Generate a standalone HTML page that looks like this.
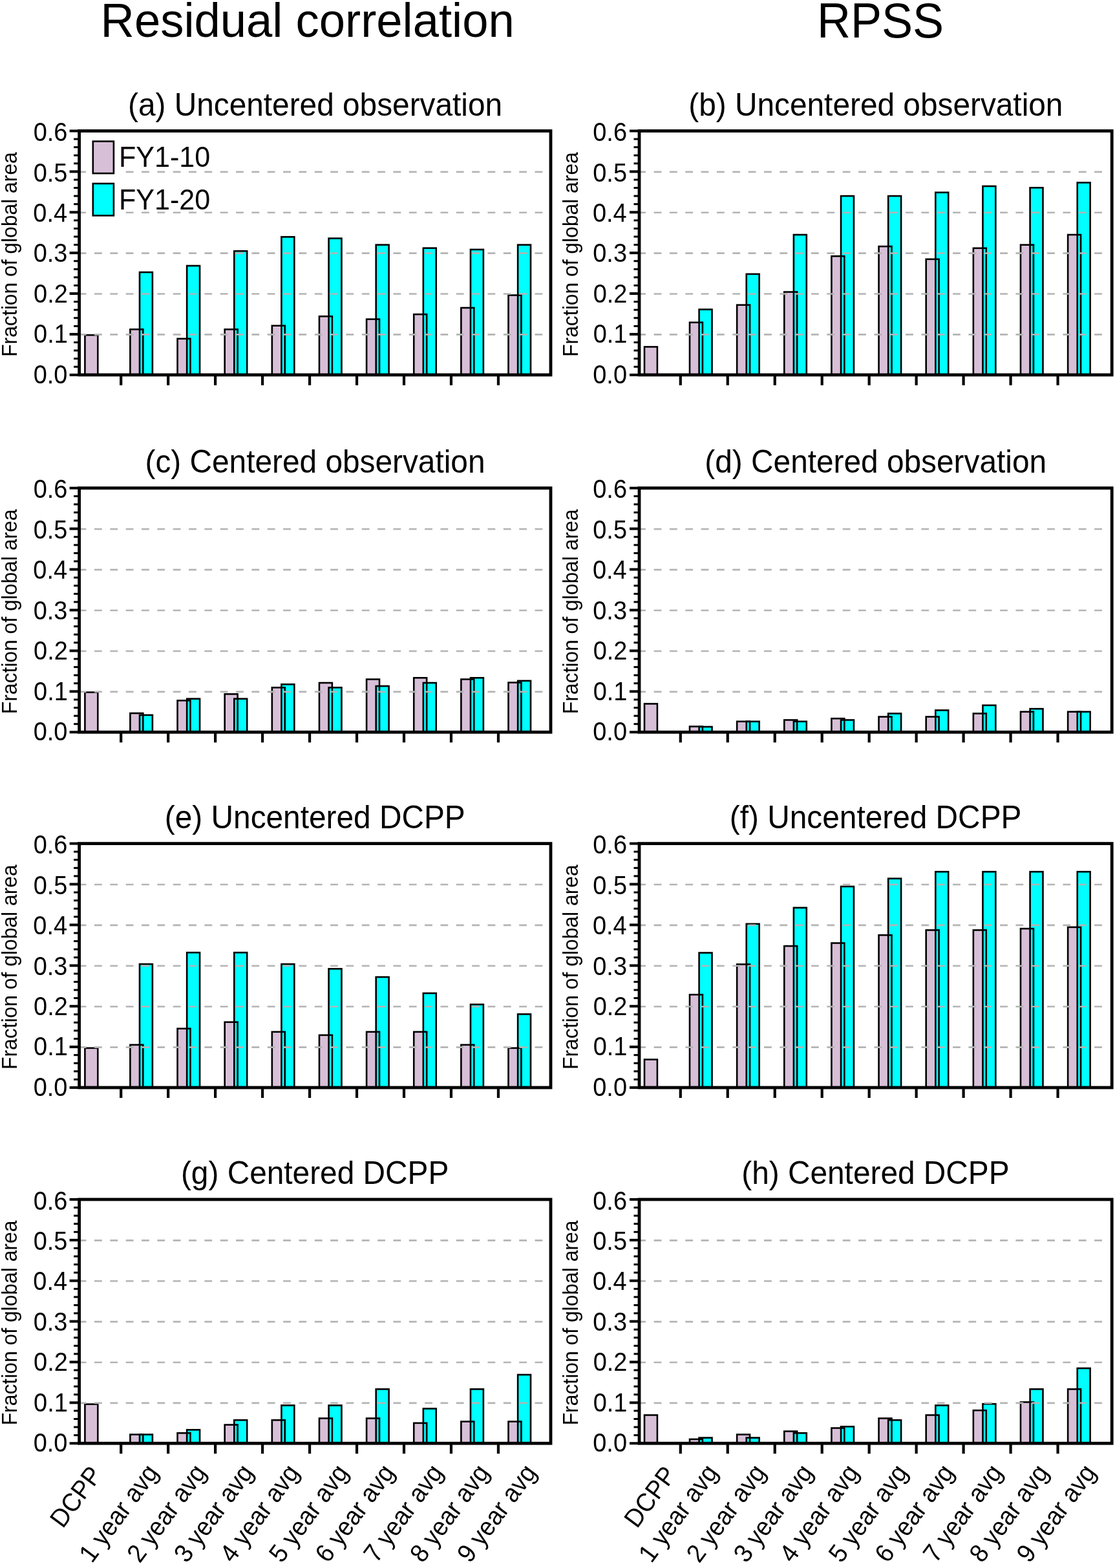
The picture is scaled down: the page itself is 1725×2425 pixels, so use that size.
<!DOCTYPE html><html><head><meta charset="utf-8"><style>html,body{margin:0;padding:0;background:#fff}svg{display:block}text{font-family:'Liberation Sans', Arial, Helvetica, sans-serif;fill:#000}</style></head><body>
<svg width="1725" height="2425" viewBox="0 0 1725 2425">
<rect width="1725" height="2425" fill="#fff"/>
<text transform="translate(155.604 57.3) scale(0.966 1)" font-size="75">Residual correlation</text>
<text transform="translate(1263.938 57.7) scale(0.954 1)" font-size="75.5">RPSS</text>
<rect x="131.4" y="518.174" width="19.9" height="61.626" fill="#d8bfd8"/>
<rect x="201.4" y="509.371" width="19.9" height="70.429" fill="#d8bfd8"/>
<rect x="216" y="421.02" width="19.9" height="158.78" fill="#00ffff"/>
<rect x="274.54" y="523.834" width="19.9" height="55.966" fill="#d8bfd8"/>
<rect x="289.14" y="411.021" width="19.9" height="168.779" fill="#00ffff"/>
<rect x="347.68" y="509.371" width="19.9" height="70.429" fill="#d8bfd8"/>
<rect x="362.28" y="388.257" width="19.9" height="191.543" fill="#00ffff"/>
<rect x="420.82" y="503.711" width="19.9" height="76.089" fill="#d8bfd8"/>
<rect x="435.42" y="366.374" width="19.9" height="213.426" fill="#00ffff"/>
<rect x="493.96" y="489.248" width="19.9" height="90.552" fill="#d8bfd8"/>
<rect x="508.56" y="368.638" width="19.9" height="211.162" fill="#00ffff"/>
<rect x="567.1" y="493.65" width="19.9" height="86.15" fill="#d8bfd8"/>
<rect x="581.7" y="378.636" width="19.9" height="201.164" fill="#00ffff"/>
<rect x="640.24" y="486.104" width="19.9" height="93.696" fill="#d8bfd8"/>
<rect x="654.84" y="383.667" width="19.9" height="196.133" fill="#00ffff"/>
<rect x="713.38" y="476.042" width="19.9" height="103.757" fill="#d8bfd8"/>
<rect x="727.98" y="385.931" width="19.9" height="193.869" fill="#00ffff"/>
<rect x="786.52" y="456.549" width="19.9" height="123.251" fill="#d8bfd8"/>
<rect x="801.12" y="378.636" width="19.9" height="201.164" fill="#00ffff"/>
<rect x="131.4" y="518.174" width="19.9" height="61.626" fill="none" stroke="#000" stroke-width="2.6"/>
<rect x="201.4" y="509.371" width="19.9" height="70.429" fill="none" stroke="#000" stroke-width="2.6"/>
<rect x="216" y="421.02" width="19.9" height="158.78" fill="none" stroke="#000" stroke-width="2.6"/>
<rect x="274.54" y="523.834" width="19.9" height="55.966" fill="none" stroke="#000" stroke-width="2.6"/>
<rect x="289.14" y="411.021" width="19.9" height="168.779" fill="none" stroke="#000" stroke-width="2.6"/>
<rect x="347.68" y="509.371" width="19.9" height="70.429" fill="none" stroke="#000" stroke-width="2.6"/>
<rect x="362.28" y="388.257" width="19.9" height="191.543" fill="none" stroke="#000" stroke-width="2.6"/>
<rect x="420.82" y="503.711" width="19.9" height="76.089" fill="none" stroke="#000" stroke-width="2.6"/>
<rect x="435.42" y="366.374" width="19.9" height="213.426" fill="none" stroke="#000" stroke-width="2.6"/>
<rect x="493.96" y="489.248" width="19.9" height="90.552" fill="none" stroke="#000" stroke-width="2.6"/>
<rect x="508.56" y="368.638" width="19.9" height="211.162" fill="none" stroke="#000" stroke-width="2.6"/>
<rect x="567.1" y="493.65" width="19.9" height="86.15" fill="none" stroke="#000" stroke-width="2.6"/>
<rect x="581.7" y="378.636" width="19.9" height="201.164" fill="none" stroke="#000" stroke-width="2.6"/>
<rect x="640.24" y="486.104" width="19.9" height="93.696" fill="none" stroke="#000" stroke-width="2.6"/>
<rect x="654.84" y="383.667" width="19.9" height="196.133" fill="none" stroke="#000" stroke-width="2.6"/>
<rect x="713.38" y="476.042" width="19.9" height="103.757" fill="none" stroke="#000" stroke-width="2.6"/>
<rect x="727.98" y="385.931" width="19.9" height="193.869" fill="none" stroke="#000" stroke-width="2.6"/>
<rect x="786.52" y="456.549" width="19.9" height="123.251" fill="none" stroke="#000" stroke-width="2.6"/>
<rect x="801.12" y="378.636" width="19.9" height="201.164" fill="none" stroke="#000" stroke-width="2.6"/>
<line x1="121.66" y1="517.417" x2="840" y2="517.417" stroke="#b4b4b4" stroke-width="2.6" stroke-dasharray="11.8 12.54"/>
<line x1="121.66" y1="454.533" x2="840" y2="454.533" stroke="#b4b4b4" stroke-width="2.6" stroke-dasharray="11.8 12.54"/>
<line x1="121.66" y1="391.65" x2="840" y2="391.65" stroke="#b4b4b4" stroke-width="2.6" stroke-dasharray="11.8 12.54"/>
<line x1="121.66" y1="328.767" x2="840" y2="328.767" stroke="#b4b4b4" stroke-width="2.6" stroke-dasharray="11.8 12.54"/>
<line x1="121.66" y1="265.883" x2="840" y2="265.883" stroke="#b4b4b4" stroke-width="2.6" stroke-dasharray="11.8 12.54"/>
<rect x="122.6" y="202.5" width="729.4" height="377.3" fill="none" stroke="#000" stroke-width="4.8"/>
<line x1="107.6" y1="579.8" x2="122.6" y2="579.8" stroke="#000" stroke-width="4"/>
<line x1="114.1" y1="567.223" x2="122.6" y2="567.223" stroke="#000" stroke-width="3"/>
<line x1="114.1" y1="554.647" x2="122.6" y2="554.647" stroke="#000" stroke-width="3"/>
<line x1="114.1" y1="542.07" x2="122.6" y2="542.07" stroke="#000" stroke-width="3"/>
<line x1="114.1" y1="529.493" x2="122.6" y2="529.493" stroke="#000" stroke-width="3"/>
<line x1="107.6" y1="516.917" x2="122.6" y2="516.917" stroke="#000" stroke-width="4"/>
<line x1="114.1" y1="504.34" x2="122.6" y2="504.34" stroke="#000" stroke-width="3"/>
<line x1="114.1" y1="491.763" x2="122.6" y2="491.763" stroke="#000" stroke-width="3"/>
<line x1="114.1" y1="479.187" x2="122.6" y2="479.187" stroke="#000" stroke-width="3"/>
<line x1="114.1" y1="466.61" x2="122.6" y2="466.61" stroke="#000" stroke-width="3"/>
<line x1="107.6" y1="454.033" x2="122.6" y2="454.033" stroke="#000" stroke-width="4"/>
<line x1="114.1" y1="441.457" x2="122.6" y2="441.457" stroke="#000" stroke-width="3"/>
<line x1="114.1" y1="428.88" x2="122.6" y2="428.88" stroke="#000" stroke-width="3"/>
<line x1="114.1" y1="416.303" x2="122.6" y2="416.303" stroke="#000" stroke-width="3"/>
<line x1="114.1" y1="403.727" x2="122.6" y2="403.727" stroke="#000" stroke-width="3"/>
<line x1="107.6" y1="391.15" x2="122.6" y2="391.15" stroke="#000" stroke-width="4"/>
<line x1="114.1" y1="378.573" x2="122.6" y2="378.573" stroke="#000" stroke-width="3"/>
<line x1="114.1" y1="365.997" x2="122.6" y2="365.997" stroke="#000" stroke-width="3"/>
<line x1="114.1" y1="353.42" x2="122.6" y2="353.42" stroke="#000" stroke-width="3"/>
<line x1="114.1" y1="340.843" x2="122.6" y2="340.843" stroke="#000" stroke-width="3"/>
<line x1="107.6" y1="328.267" x2="122.6" y2="328.267" stroke="#000" stroke-width="4"/>
<line x1="114.1" y1="315.69" x2="122.6" y2="315.69" stroke="#000" stroke-width="3"/>
<line x1="114.1" y1="303.113" x2="122.6" y2="303.113" stroke="#000" stroke-width="3"/>
<line x1="114.1" y1="290.537" x2="122.6" y2="290.537" stroke="#000" stroke-width="3"/>
<line x1="114.1" y1="277.96" x2="122.6" y2="277.96" stroke="#000" stroke-width="3"/>
<line x1="107.6" y1="265.383" x2="122.6" y2="265.383" stroke="#000" stroke-width="4"/>
<line x1="114.1" y1="252.807" x2="122.6" y2="252.807" stroke="#000" stroke-width="3"/>
<line x1="114.1" y1="240.23" x2="122.6" y2="240.23" stroke="#000" stroke-width="3"/>
<line x1="114.1" y1="227.653" x2="122.6" y2="227.653" stroke="#000" stroke-width="3"/>
<line x1="114.1" y1="215.077" x2="122.6" y2="215.077" stroke="#000" stroke-width="3"/>
<line x1="107.6" y1="202.5" x2="122.6" y2="202.5" stroke="#000" stroke-width="4"/>
<line x1="187.18" y1="579.8" x2="187.18" y2="595.8" stroke="#000" stroke-width="4.2"/>
<line x1="260.15" y1="579.8" x2="260.15" y2="595.8" stroke="#000" stroke-width="4.2"/>
<line x1="333.12" y1="579.8" x2="333.12" y2="595.8" stroke="#000" stroke-width="4.2"/>
<line x1="406.09" y1="579.8" x2="406.09" y2="595.8" stroke="#000" stroke-width="4.2"/>
<line x1="479.06" y1="579.8" x2="479.06" y2="595.8" stroke="#000" stroke-width="4.2"/>
<line x1="552.03" y1="579.8" x2="552.03" y2="595.8" stroke="#000" stroke-width="4.2"/>
<line x1="625" y1="579.8" x2="625" y2="595.8" stroke="#000" stroke-width="4.2"/>
<line x1="697.97" y1="579.8" x2="697.97" y2="595.8" stroke="#000" stroke-width="4.2"/>
<line x1="770.94" y1="579.8" x2="770.94" y2="595.8" stroke="#000" stroke-width="4.2"/>
<text transform="translate(51.674 592.614) scale(0.921 1)" font-size="41.2">0.0</text>
<text transform="translate(52.053 530.197) scale(0.921 1)" font-size="41.2">0.1</text>
<text transform="translate(52.053 467.781) scale(0.921 1)" font-size="41.2">0.2</text>
<text transform="translate(51.674 405.364) scale(0.921 1)" font-size="41.2">0.3</text>
<text transform="translate(51.295 342.947) scale(0.921 1)" font-size="41.2">0.4</text>
<text transform="translate(51.674 280.531) scale(0.921 1)" font-size="41.2">0.5</text>
<text transform="translate(51.674 218.114) scale(0.921 1)" font-size="41.2">0.6</text>
<text transform="translate(26 551.872) rotate(-90) scale(0.959 1)" font-size="33.2">Fraction of global area</text>
<text transform="translate(197.971 178.8) scale(0.956 1)" font-size="50">(a) Uncentered observation</text>
<rect x="997" y="536.41" width="19.9" height="43.389" fill="#d8bfd8"/>
<rect x="1067" y="498.68" width="19.9" height="81.12" fill="#d8bfd8"/>
<rect x="1081.6" y="478.558" width="19.9" height="101.242" fill="#00ffff"/>
<rect x="1140.14" y="471.641" width="19.9" height="108.159" fill="#d8bfd8"/>
<rect x="1154.74" y="423.849" width="19.9" height="155.951" fill="#00ffff"/>
<rect x="1213.28" y="451.518" width="19.9" height="128.282" fill="#d8bfd8"/>
<rect x="1227.88" y="363.041" width="19.9" height="216.759" fill="#00ffff"/>
<rect x="1286.42" y="396.181" width="19.9" height="183.619" fill="#d8bfd8"/>
<rect x="1301.02" y="303.113" width="19.9" height="276.687" fill="#00ffff"/>
<rect x="1359.56" y="381.089" width="19.9" height="198.711" fill="#d8bfd8"/>
<rect x="1374.16" y="303.113" width="19.9" height="276.687" fill="#00ffff"/>
<rect x="1432.7" y="400.834" width="19.9" height="178.966" fill="#d8bfd8"/>
<rect x="1447.3" y="297.642" width="19.9" height="282.158" fill="#00ffff"/>
<rect x="1505.84" y="383.793" width="19.9" height="196.007" fill="#d8bfd8"/>
<rect x="1520.44" y="287.958" width="19.9" height="291.842" fill="#00ffff"/>
<rect x="1578.98" y="378.699" width="19.9" height="201.101" fill="#d8bfd8"/>
<rect x="1593.58" y="290.285" width="19.9" height="289.515" fill="#00ffff"/>
<rect x="1652.12" y="363.041" width="19.9" height="216.759" fill="#d8bfd8"/>
<rect x="1666.72" y="282.425" width="19.9" height="297.375" fill="#00ffff"/>
<rect x="997" y="536.41" width="19.9" height="43.389" fill="none" stroke="#000" stroke-width="2.6"/>
<rect x="1067" y="498.68" width="19.9" height="81.12" fill="none" stroke="#000" stroke-width="2.6"/>
<rect x="1081.6" y="478.558" width="19.9" height="101.242" fill="none" stroke="#000" stroke-width="2.6"/>
<rect x="1140.14" y="471.641" width="19.9" height="108.159" fill="none" stroke="#000" stroke-width="2.6"/>
<rect x="1154.74" y="423.849" width="19.9" height="155.951" fill="none" stroke="#000" stroke-width="2.6"/>
<rect x="1213.28" y="451.518" width="19.9" height="128.282" fill="none" stroke="#000" stroke-width="2.6"/>
<rect x="1227.88" y="363.041" width="19.9" height="216.759" fill="none" stroke="#000" stroke-width="2.6"/>
<rect x="1286.42" y="396.181" width="19.9" height="183.619" fill="none" stroke="#000" stroke-width="2.6"/>
<rect x="1301.02" y="303.113" width="19.9" height="276.687" fill="none" stroke="#000" stroke-width="2.6"/>
<rect x="1359.56" y="381.089" width="19.9" height="198.711" fill="none" stroke="#000" stroke-width="2.6"/>
<rect x="1374.16" y="303.113" width="19.9" height="276.687" fill="none" stroke="#000" stroke-width="2.6"/>
<rect x="1432.7" y="400.834" width="19.9" height="178.966" fill="none" stroke="#000" stroke-width="2.6"/>
<rect x="1447.3" y="297.642" width="19.9" height="282.158" fill="none" stroke="#000" stroke-width="2.6"/>
<rect x="1505.84" y="383.793" width="19.9" height="196.007" fill="none" stroke="#000" stroke-width="2.6"/>
<rect x="1520.44" y="287.958" width="19.9" height="291.842" fill="none" stroke="#000" stroke-width="2.6"/>
<rect x="1578.98" y="378.699" width="19.9" height="201.101" fill="none" stroke="#000" stroke-width="2.6"/>
<rect x="1593.58" y="290.285" width="19.9" height="289.515" fill="none" stroke="#000" stroke-width="2.6"/>
<rect x="1652.12" y="363.041" width="19.9" height="216.759" fill="none" stroke="#000" stroke-width="2.6"/>
<rect x="1666.72" y="282.425" width="19.9" height="297.375" fill="none" stroke="#000" stroke-width="2.6"/>
<line x1="987.26" y1="517.417" x2="1708.2" y2="517.417" stroke="#b4b4b4" stroke-width="2.6" stroke-dasharray="11.8 12.54"/>
<line x1="987.26" y1="454.533" x2="1708.2" y2="454.533" stroke="#b4b4b4" stroke-width="2.6" stroke-dasharray="11.8 12.54"/>
<line x1="987.26" y1="391.65" x2="1708.2" y2="391.65" stroke="#b4b4b4" stroke-width="2.6" stroke-dasharray="11.8 12.54"/>
<line x1="987.26" y1="328.767" x2="1708.2" y2="328.767" stroke="#b4b4b4" stroke-width="2.6" stroke-dasharray="11.8 12.54"/>
<line x1="987.26" y1="265.883" x2="1708.2" y2="265.883" stroke="#b4b4b4" stroke-width="2.6" stroke-dasharray="11.8 12.54"/>
<rect x="989" y="202.5" width="731.2" height="377.3" fill="none" stroke="#000" stroke-width="4.8"/>
<line x1="974" y1="579.8" x2="989" y2="579.8" stroke="#000" stroke-width="4"/>
<line x1="980.5" y1="567.223" x2="989" y2="567.223" stroke="#000" stroke-width="3"/>
<line x1="980.5" y1="554.647" x2="989" y2="554.647" stroke="#000" stroke-width="3"/>
<line x1="980.5" y1="542.07" x2="989" y2="542.07" stroke="#000" stroke-width="3"/>
<line x1="980.5" y1="529.493" x2="989" y2="529.493" stroke="#000" stroke-width="3"/>
<line x1="974" y1="516.917" x2="989" y2="516.917" stroke="#000" stroke-width="4"/>
<line x1="980.5" y1="504.34" x2="989" y2="504.34" stroke="#000" stroke-width="3"/>
<line x1="980.5" y1="491.763" x2="989" y2="491.763" stroke="#000" stroke-width="3"/>
<line x1="980.5" y1="479.187" x2="989" y2="479.187" stroke="#000" stroke-width="3"/>
<line x1="980.5" y1="466.61" x2="989" y2="466.61" stroke="#000" stroke-width="3"/>
<line x1="974" y1="454.033" x2="989" y2="454.033" stroke="#000" stroke-width="4"/>
<line x1="980.5" y1="441.457" x2="989" y2="441.457" stroke="#000" stroke-width="3"/>
<line x1="980.5" y1="428.88" x2="989" y2="428.88" stroke="#000" stroke-width="3"/>
<line x1="980.5" y1="416.303" x2="989" y2="416.303" stroke="#000" stroke-width="3"/>
<line x1="980.5" y1="403.727" x2="989" y2="403.727" stroke="#000" stroke-width="3"/>
<line x1="974" y1="391.15" x2="989" y2="391.15" stroke="#000" stroke-width="4"/>
<line x1="980.5" y1="378.573" x2="989" y2="378.573" stroke="#000" stroke-width="3"/>
<line x1="980.5" y1="365.997" x2="989" y2="365.997" stroke="#000" stroke-width="3"/>
<line x1="980.5" y1="353.42" x2="989" y2="353.42" stroke="#000" stroke-width="3"/>
<line x1="980.5" y1="340.843" x2="989" y2="340.843" stroke="#000" stroke-width="3"/>
<line x1="974" y1="328.267" x2="989" y2="328.267" stroke="#000" stroke-width="4"/>
<line x1="980.5" y1="315.69" x2="989" y2="315.69" stroke="#000" stroke-width="3"/>
<line x1="980.5" y1="303.113" x2="989" y2="303.113" stroke="#000" stroke-width="3"/>
<line x1="980.5" y1="290.537" x2="989" y2="290.537" stroke="#000" stroke-width="3"/>
<line x1="980.5" y1="277.96" x2="989" y2="277.96" stroke="#000" stroke-width="3"/>
<line x1="974" y1="265.383" x2="989" y2="265.383" stroke="#000" stroke-width="4"/>
<line x1="980.5" y1="252.807" x2="989" y2="252.807" stroke="#000" stroke-width="3"/>
<line x1="980.5" y1="240.23" x2="989" y2="240.23" stroke="#000" stroke-width="3"/>
<line x1="980.5" y1="227.653" x2="989" y2="227.653" stroke="#000" stroke-width="3"/>
<line x1="980.5" y1="215.077" x2="989" y2="215.077" stroke="#000" stroke-width="3"/>
<line x1="974" y1="202.5" x2="989" y2="202.5" stroke="#000" stroke-width="4"/>
<line x1="1052.78" y1="579.8" x2="1052.78" y2="595.8" stroke="#000" stroke-width="4.2"/>
<line x1="1125.75" y1="579.8" x2="1125.75" y2="595.8" stroke="#000" stroke-width="4.2"/>
<line x1="1198.72" y1="579.8" x2="1198.72" y2="595.8" stroke="#000" stroke-width="4.2"/>
<line x1="1271.69" y1="579.8" x2="1271.69" y2="595.8" stroke="#000" stroke-width="4.2"/>
<line x1="1344.66" y1="579.8" x2="1344.66" y2="595.8" stroke="#000" stroke-width="4.2"/>
<line x1="1417.63" y1="579.8" x2="1417.63" y2="595.8" stroke="#000" stroke-width="4.2"/>
<line x1="1490.6" y1="579.8" x2="1490.6" y2="595.8" stroke="#000" stroke-width="4.2"/>
<line x1="1563.57" y1="579.8" x2="1563.57" y2="595.8" stroke="#000" stroke-width="4.2"/>
<line x1="1636.54" y1="579.8" x2="1636.54" y2="595.8" stroke="#000" stroke-width="4.2"/>
<text transform="translate(917.274 592.614) scale(0.921 1)" font-size="41.2">0.0</text>
<text transform="translate(917.653 530.197) scale(0.921 1)" font-size="41.2">0.1</text>
<text transform="translate(917.653 467.781) scale(0.921 1)" font-size="41.2">0.2</text>
<text transform="translate(917.274 405.364) scale(0.921 1)" font-size="41.2">0.3</text>
<text transform="translate(916.895 342.947) scale(0.921 1)" font-size="41.2">0.4</text>
<text transform="translate(917.274 280.531) scale(0.921 1)" font-size="41.2">0.5</text>
<text transform="translate(917.274 218.114) scale(0.921 1)" font-size="41.2">0.6</text>
<text transform="translate(893.9 551.872) rotate(-90) scale(0.959 1)" font-size="33.2">Fraction of global area</text>
<text transform="translate(1065.271 178.8) scale(0.956 1)" font-size="50">(b) Uncentered observation</text>
<rect x="131.4" y="1070.642" width="19.9" height="61.658" fill="#d8bfd8"/>
<rect x="201.4" y="1103.044" width="19.9" height="29.256" fill="#d8bfd8"/>
<rect x="216" y="1105.875" width="19.9" height="26.425" fill="#00ffff"/>
<rect x="274.54" y="1083.414" width="19.9" height="48.886" fill="#d8bfd8"/>
<rect x="289.14" y="1080.708" width="19.9" height="51.592" fill="#00ffff"/>
<rect x="347.68" y="1073.41" width="19.9" height="58.89" fill="#d8bfd8"/>
<rect x="362.28" y="1080.708" width="19.9" height="51.592" fill="#00ffff"/>
<rect x="420.82" y="1063.343" width="19.9" height="68.957" fill="#d8bfd8"/>
<rect x="435.42" y="1058.373" width="19.9" height="73.927" fill="#00ffff"/>
<rect x="493.96" y="1056.045" width="19.9" height="76.255" fill="#d8bfd8"/>
<rect x="508.56" y="1063.343" width="19.9" height="68.957" fill="#00ffff"/>
<rect x="567.1" y="1050.571" width="19.9" height="81.729" fill="#d8bfd8"/>
<rect x="581.7" y="1061.078" width="19.9" height="71.222" fill="#00ffff"/>
<rect x="640.24" y="1048.306" width="19.9" height="83.994" fill="#d8bfd8"/>
<rect x="654.84" y="1056.045" width="19.9" height="76.255" fill="#00ffff"/>
<rect x="713.38" y="1050.571" width="19.9" height="81.729" fill="#d8bfd8"/>
<rect x="727.98" y="1048.306" width="19.9" height="83.994" fill="#00ffff"/>
<rect x="786.52" y="1055.605" width="19.9" height="76.695" fill="#d8bfd8"/>
<rect x="801.12" y="1052.899" width="19.9" height="79.401" fill="#00ffff"/>
<rect x="131.4" y="1070.642" width="19.9" height="61.658" fill="none" stroke="#000" stroke-width="2.6"/>
<rect x="201.4" y="1103.044" width="19.9" height="29.256" fill="none" stroke="#000" stroke-width="2.6"/>
<rect x="216" y="1105.875" width="19.9" height="26.425" fill="none" stroke="#000" stroke-width="2.6"/>
<rect x="274.54" y="1083.414" width="19.9" height="48.886" fill="none" stroke="#000" stroke-width="2.6"/>
<rect x="289.14" y="1080.708" width="19.9" height="51.592" fill="none" stroke="#000" stroke-width="2.6"/>
<rect x="347.68" y="1073.41" width="19.9" height="58.89" fill="none" stroke="#000" stroke-width="2.6"/>
<rect x="362.28" y="1080.708" width="19.9" height="51.592" fill="none" stroke="#000" stroke-width="2.6"/>
<rect x="420.82" y="1063.343" width="19.9" height="68.957" fill="none" stroke="#000" stroke-width="2.6"/>
<rect x="435.42" y="1058.373" width="19.9" height="73.927" fill="none" stroke="#000" stroke-width="2.6"/>
<rect x="493.96" y="1056.045" width="19.9" height="76.255" fill="none" stroke="#000" stroke-width="2.6"/>
<rect x="508.56" y="1063.343" width="19.9" height="68.957" fill="none" stroke="#000" stroke-width="2.6"/>
<rect x="567.1" y="1050.571" width="19.9" height="81.729" fill="none" stroke="#000" stroke-width="2.6"/>
<rect x="581.7" y="1061.078" width="19.9" height="71.222" fill="none" stroke="#000" stroke-width="2.6"/>
<rect x="640.24" y="1048.306" width="19.9" height="83.994" fill="none" stroke="#000" stroke-width="2.6"/>
<rect x="654.84" y="1056.045" width="19.9" height="76.255" fill="none" stroke="#000" stroke-width="2.6"/>
<rect x="713.38" y="1050.571" width="19.9" height="81.729" fill="none" stroke="#000" stroke-width="2.6"/>
<rect x="727.98" y="1048.306" width="19.9" height="83.994" fill="none" stroke="#000" stroke-width="2.6"/>
<rect x="786.52" y="1055.605" width="19.9" height="76.695" fill="none" stroke="#000" stroke-width="2.6"/>
<rect x="801.12" y="1052.899" width="19.9" height="79.401" fill="none" stroke="#000" stroke-width="2.6"/>
<line x1="121.66" y1="1069.883" x2="840" y2="1069.883" stroke="#b4b4b4" stroke-width="2.6" stroke-dasharray="11.8 12.54"/>
<line x1="121.66" y1="1006.967" x2="840" y2="1006.967" stroke="#b4b4b4" stroke-width="2.6" stroke-dasharray="11.8 12.54"/>
<line x1="121.66" y1="944.05" x2="840" y2="944.05" stroke="#b4b4b4" stroke-width="2.6" stroke-dasharray="11.8 12.54"/>
<line x1="121.66" y1="881.133" x2="840" y2="881.133" stroke="#b4b4b4" stroke-width="2.6" stroke-dasharray="11.8 12.54"/>
<line x1="121.66" y1="818.217" x2="840" y2="818.217" stroke="#b4b4b4" stroke-width="2.6" stroke-dasharray="11.8 12.54"/>
<rect x="122.6" y="754.8" width="729.4" height="377.5" fill="none" stroke="#000" stroke-width="4.8"/>
<line x1="107.6" y1="1132.3" x2="122.6" y2="1132.3" stroke="#000" stroke-width="4"/>
<line x1="114.1" y1="1119.717" x2="122.6" y2="1119.717" stroke="#000" stroke-width="3"/>
<line x1="114.1" y1="1107.133" x2="122.6" y2="1107.133" stroke="#000" stroke-width="3"/>
<line x1="114.1" y1="1094.55" x2="122.6" y2="1094.55" stroke="#000" stroke-width="3"/>
<line x1="114.1" y1="1081.967" x2="122.6" y2="1081.967" stroke="#000" stroke-width="3"/>
<line x1="107.6" y1="1069.383" x2="122.6" y2="1069.383" stroke="#000" stroke-width="4"/>
<line x1="114.1" y1="1056.8" x2="122.6" y2="1056.8" stroke="#000" stroke-width="3"/>
<line x1="114.1" y1="1044.217" x2="122.6" y2="1044.217" stroke="#000" stroke-width="3"/>
<line x1="114.1" y1="1031.633" x2="122.6" y2="1031.633" stroke="#000" stroke-width="3"/>
<line x1="114.1" y1="1019.05" x2="122.6" y2="1019.05" stroke="#000" stroke-width="3"/>
<line x1="107.6" y1="1006.467" x2="122.6" y2="1006.467" stroke="#000" stroke-width="4"/>
<line x1="114.1" y1="993.883" x2="122.6" y2="993.883" stroke="#000" stroke-width="3"/>
<line x1="114.1" y1="981.3" x2="122.6" y2="981.3" stroke="#000" stroke-width="3"/>
<line x1="114.1" y1="968.717" x2="122.6" y2="968.717" stroke="#000" stroke-width="3"/>
<line x1="114.1" y1="956.133" x2="122.6" y2="956.133" stroke="#000" stroke-width="3"/>
<line x1="107.6" y1="943.55" x2="122.6" y2="943.55" stroke="#000" stroke-width="4"/>
<line x1="114.1" y1="930.967" x2="122.6" y2="930.967" stroke="#000" stroke-width="3"/>
<line x1="114.1" y1="918.383" x2="122.6" y2="918.383" stroke="#000" stroke-width="3"/>
<line x1="114.1" y1="905.8" x2="122.6" y2="905.8" stroke="#000" stroke-width="3"/>
<line x1="114.1" y1="893.217" x2="122.6" y2="893.217" stroke="#000" stroke-width="3"/>
<line x1="107.6" y1="880.633" x2="122.6" y2="880.633" stroke="#000" stroke-width="4"/>
<line x1="114.1" y1="868.05" x2="122.6" y2="868.05" stroke="#000" stroke-width="3"/>
<line x1="114.1" y1="855.467" x2="122.6" y2="855.467" stroke="#000" stroke-width="3"/>
<line x1="114.1" y1="842.883" x2="122.6" y2="842.883" stroke="#000" stroke-width="3"/>
<line x1="114.1" y1="830.3" x2="122.6" y2="830.3" stroke="#000" stroke-width="3"/>
<line x1="107.6" y1="817.717" x2="122.6" y2="817.717" stroke="#000" stroke-width="4"/>
<line x1="114.1" y1="805.133" x2="122.6" y2="805.133" stroke="#000" stroke-width="3"/>
<line x1="114.1" y1="792.55" x2="122.6" y2="792.55" stroke="#000" stroke-width="3"/>
<line x1="114.1" y1="779.967" x2="122.6" y2="779.967" stroke="#000" stroke-width="3"/>
<line x1="114.1" y1="767.383" x2="122.6" y2="767.383" stroke="#000" stroke-width="3"/>
<line x1="107.6" y1="754.8" x2="122.6" y2="754.8" stroke="#000" stroke-width="4"/>
<line x1="187.18" y1="1132.3" x2="187.18" y2="1148.3" stroke="#000" stroke-width="4.2"/>
<line x1="260.15" y1="1132.3" x2="260.15" y2="1148.3" stroke="#000" stroke-width="4.2"/>
<line x1="333.12" y1="1132.3" x2="333.12" y2="1148.3" stroke="#000" stroke-width="4.2"/>
<line x1="406.09" y1="1132.3" x2="406.09" y2="1148.3" stroke="#000" stroke-width="4.2"/>
<line x1="479.06" y1="1132.3" x2="479.06" y2="1148.3" stroke="#000" stroke-width="4.2"/>
<line x1="552.03" y1="1132.3" x2="552.03" y2="1148.3" stroke="#000" stroke-width="4.2"/>
<line x1="625" y1="1132.3" x2="625" y2="1148.3" stroke="#000" stroke-width="4.2"/>
<line x1="697.97" y1="1132.3" x2="697.97" y2="1148.3" stroke="#000" stroke-width="4.2"/>
<line x1="770.94" y1="1132.3" x2="770.94" y2="1148.3" stroke="#000" stroke-width="4.2"/>
<text transform="translate(51.674 1145.114) scale(0.921 1)" font-size="41.2">0.0</text>
<text transform="translate(52.053 1082.664) scale(0.921 1)" font-size="41.2">0.1</text>
<text transform="translate(52.053 1020.214) scale(0.921 1)" font-size="41.2">0.2</text>
<text transform="translate(51.674 957.764) scale(0.921 1)" font-size="41.2">0.3</text>
<text transform="translate(51.295 895.314) scale(0.921 1)" font-size="41.2">0.4</text>
<text transform="translate(51.674 832.864) scale(0.921 1)" font-size="41.2">0.5</text>
<text transform="translate(51.674 770.414) scale(0.921 1)" font-size="41.2">0.6</text>
<text transform="translate(26 1104.272) rotate(-90) scale(0.959 1)" font-size="33.2">Fraction of global area</text>
<text transform="translate(224.5 731.1) scale(0.956 1)" font-size="50">(c) Centered observation</text>
<rect x="997" y="1088.447" width="19.9" height="43.853" fill="#d8bfd8"/>
<rect x="1067" y="1123.555" width="19.9" height="8.745" fill="#d8bfd8"/>
<rect x="1081.6" y="1123.995" width="19.9" height="8.305" fill="#00ffff"/>
<rect x="1140.14" y="1115.816" width="19.9" height="16.484" fill="#d8bfd8"/>
<rect x="1154.74" y="1115.816" width="19.9" height="16.484" fill="#00ffff"/>
<rect x="1213.28" y="1113.488" width="19.9" height="18.812" fill="#d8bfd8"/>
<rect x="1227.88" y="1115.816" width="19.9" height="16.484" fill="#00ffff"/>
<rect x="1286.42" y="1111.223" width="19.9" height="21.077" fill="#d8bfd8"/>
<rect x="1301.02" y="1113.488" width="19.9" height="18.812" fill="#00ffff"/>
<rect x="1359.56" y="1108.517" width="19.9" height="23.783" fill="#d8bfd8"/>
<rect x="1374.16" y="1103.484" width="19.9" height="28.816" fill="#00ffff"/>
<rect x="1432.7" y="1108.517" width="19.9" height="23.783" fill="#d8bfd8"/>
<rect x="1447.3" y="1098.451" width="19.9" height="33.849" fill="#00ffff"/>
<rect x="1505.84" y="1103.484" width="19.9" height="28.816" fill="#d8bfd8"/>
<rect x="1520.44" y="1090.775" width="19.9" height="41.525" fill="#00ffff"/>
<rect x="1578.98" y="1100.779" width="19.9" height="31.521" fill="#d8bfd8"/>
<rect x="1593.58" y="1096.186" width="19.9" height="36.114" fill="#00ffff"/>
<rect x="1652.12" y="1100.779" width="19.9" height="31.521" fill="#d8bfd8"/>
<rect x="1666.72" y="1100.779" width="19.9" height="31.521" fill="#00ffff"/>
<rect x="997" y="1088.447" width="19.9" height="43.853" fill="none" stroke="#000" stroke-width="2.6"/>
<rect x="1067" y="1123.555" width="19.9" height="8.745" fill="none" stroke="#000" stroke-width="2.6"/>
<rect x="1081.6" y="1123.995" width="19.9" height="8.305" fill="none" stroke="#000" stroke-width="2.6"/>
<rect x="1140.14" y="1115.816" width="19.9" height="16.484" fill="none" stroke="#000" stroke-width="2.6"/>
<rect x="1154.74" y="1115.816" width="19.9" height="16.484" fill="none" stroke="#000" stroke-width="2.6"/>
<rect x="1213.28" y="1113.488" width="19.9" height="18.812" fill="none" stroke="#000" stroke-width="2.6"/>
<rect x="1227.88" y="1115.816" width="19.9" height="16.484" fill="none" stroke="#000" stroke-width="2.6"/>
<rect x="1286.42" y="1111.223" width="19.9" height="21.077" fill="none" stroke="#000" stroke-width="2.6"/>
<rect x="1301.02" y="1113.488" width="19.9" height="18.812" fill="none" stroke="#000" stroke-width="2.6"/>
<rect x="1359.56" y="1108.517" width="19.9" height="23.783" fill="none" stroke="#000" stroke-width="2.6"/>
<rect x="1374.16" y="1103.484" width="19.9" height="28.816" fill="none" stroke="#000" stroke-width="2.6"/>
<rect x="1432.7" y="1108.517" width="19.9" height="23.783" fill="none" stroke="#000" stroke-width="2.6"/>
<rect x="1447.3" y="1098.451" width="19.9" height="33.849" fill="none" stroke="#000" stroke-width="2.6"/>
<rect x="1505.84" y="1103.484" width="19.9" height="28.816" fill="none" stroke="#000" stroke-width="2.6"/>
<rect x="1520.44" y="1090.775" width="19.9" height="41.525" fill="none" stroke="#000" stroke-width="2.6"/>
<rect x="1578.98" y="1100.779" width="19.9" height="31.521" fill="none" stroke="#000" stroke-width="2.6"/>
<rect x="1593.58" y="1096.186" width="19.9" height="36.114" fill="none" stroke="#000" stroke-width="2.6"/>
<rect x="1652.12" y="1100.779" width="19.9" height="31.521" fill="none" stroke="#000" stroke-width="2.6"/>
<rect x="1666.72" y="1100.779" width="19.9" height="31.521" fill="none" stroke="#000" stroke-width="2.6"/>
<line x1="987.26" y1="1069.883" x2="1708.2" y2="1069.883" stroke="#b4b4b4" stroke-width="2.6" stroke-dasharray="11.8 12.54"/>
<line x1="987.26" y1="1006.967" x2="1708.2" y2="1006.967" stroke="#b4b4b4" stroke-width="2.6" stroke-dasharray="11.8 12.54"/>
<line x1="987.26" y1="944.05" x2="1708.2" y2="944.05" stroke="#b4b4b4" stroke-width="2.6" stroke-dasharray="11.8 12.54"/>
<line x1="987.26" y1="881.133" x2="1708.2" y2="881.133" stroke="#b4b4b4" stroke-width="2.6" stroke-dasharray="11.8 12.54"/>
<line x1="987.26" y1="818.217" x2="1708.2" y2="818.217" stroke="#b4b4b4" stroke-width="2.6" stroke-dasharray="11.8 12.54"/>
<rect x="989" y="754.8" width="731.2" height="377.5" fill="none" stroke="#000" stroke-width="4.8"/>
<line x1="974" y1="1132.3" x2="989" y2="1132.3" stroke="#000" stroke-width="4"/>
<line x1="980.5" y1="1119.717" x2="989" y2="1119.717" stroke="#000" stroke-width="3"/>
<line x1="980.5" y1="1107.133" x2="989" y2="1107.133" stroke="#000" stroke-width="3"/>
<line x1="980.5" y1="1094.55" x2="989" y2="1094.55" stroke="#000" stroke-width="3"/>
<line x1="980.5" y1="1081.967" x2="989" y2="1081.967" stroke="#000" stroke-width="3"/>
<line x1="974" y1="1069.383" x2="989" y2="1069.383" stroke="#000" stroke-width="4"/>
<line x1="980.5" y1="1056.8" x2="989" y2="1056.8" stroke="#000" stroke-width="3"/>
<line x1="980.5" y1="1044.217" x2="989" y2="1044.217" stroke="#000" stroke-width="3"/>
<line x1="980.5" y1="1031.633" x2="989" y2="1031.633" stroke="#000" stroke-width="3"/>
<line x1="980.5" y1="1019.05" x2="989" y2="1019.05" stroke="#000" stroke-width="3"/>
<line x1="974" y1="1006.467" x2="989" y2="1006.467" stroke="#000" stroke-width="4"/>
<line x1="980.5" y1="993.883" x2="989" y2="993.883" stroke="#000" stroke-width="3"/>
<line x1="980.5" y1="981.3" x2="989" y2="981.3" stroke="#000" stroke-width="3"/>
<line x1="980.5" y1="968.717" x2="989" y2="968.717" stroke="#000" stroke-width="3"/>
<line x1="980.5" y1="956.133" x2="989" y2="956.133" stroke="#000" stroke-width="3"/>
<line x1="974" y1="943.55" x2="989" y2="943.55" stroke="#000" stroke-width="4"/>
<line x1="980.5" y1="930.967" x2="989" y2="930.967" stroke="#000" stroke-width="3"/>
<line x1="980.5" y1="918.383" x2="989" y2="918.383" stroke="#000" stroke-width="3"/>
<line x1="980.5" y1="905.8" x2="989" y2="905.8" stroke="#000" stroke-width="3"/>
<line x1="980.5" y1="893.217" x2="989" y2="893.217" stroke="#000" stroke-width="3"/>
<line x1="974" y1="880.633" x2="989" y2="880.633" stroke="#000" stroke-width="4"/>
<line x1="980.5" y1="868.05" x2="989" y2="868.05" stroke="#000" stroke-width="3"/>
<line x1="980.5" y1="855.467" x2="989" y2="855.467" stroke="#000" stroke-width="3"/>
<line x1="980.5" y1="842.883" x2="989" y2="842.883" stroke="#000" stroke-width="3"/>
<line x1="980.5" y1="830.3" x2="989" y2="830.3" stroke="#000" stroke-width="3"/>
<line x1="974" y1="817.717" x2="989" y2="817.717" stroke="#000" stroke-width="4"/>
<line x1="980.5" y1="805.133" x2="989" y2="805.133" stroke="#000" stroke-width="3"/>
<line x1="980.5" y1="792.55" x2="989" y2="792.55" stroke="#000" stroke-width="3"/>
<line x1="980.5" y1="779.967" x2="989" y2="779.967" stroke="#000" stroke-width="3"/>
<line x1="980.5" y1="767.383" x2="989" y2="767.383" stroke="#000" stroke-width="3"/>
<line x1="974" y1="754.8" x2="989" y2="754.8" stroke="#000" stroke-width="4"/>
<line x1="1052.78" y1="1132.3" x2="1052.78" y2="1148.3" stroke="#000" stroke-width="4.2"/>
<line x1="1125.75" y1="1132.3" x2="1125.75" y2="1148.3" stroke="#000" stroke-width="4.2"/>
<line x1="1198.72" y1="1132.3" x2="1198.72" y2="1148.3" stroke="#000" stroke-width="4.2"/>
<line x1="1271.69" y1="1132.3" x2="1271.69" y2="1148.3" stroke="#000" stroke-width="4.2"/>
<line x1="1344.66" y1="1132.3" x2="1344.66" y2="1148.3" stroke="#000" stroke-width="4.2"/>
<line x1="1417.63" y1="1132.3" x2="1417.63" y2="1148.3" stroke="#000" stroke-width="4.2"/>
<line x1="1490.6" y1="1132.3" x2="1490.6" y2="1148.3" stroke="#000" stroke-width="4.2"/>
<line x1="1563.57" y1="1132.3" x2="1563.57" y2="1148.3" stroke="#000" stroke-width="4.2"/>
<line x1="1636.54" y1="1132.3" x2="1636.54" y2="1148.3" stroke="#000" stroke-width="4.2"/>
<text transform="translate(917.274 1145.114) scale(0.921 1)" font-size="41.2">0.0</text>
<text transform="translate(917.653 1082.664) scale(0.921 1)" font-size="41.2">0.1</text>
<text transform="translate(917.653 1020.214) scale(0.921 1)" font-size="41.2">0.2</text>
<text transform="translate(917.274 957.764) scale(0.921 1)" font-size="41.2">0.3</text>
<text transform="translate(916.895 895.314) scale(0.921 1)" font-size="41.2">0.4</text>
<text transform="translate(917.274 832.864) scale(0.921 1)" font-size="41.2">0.5</text>
<text transform="translate(917.274 770.414) scale(0.921 1)" font-size="41.2">0.6</text>
<text transform="translate(893.9 1104.272) rotate(-90) scale(0.959 1)" font-size="33.2">Fraction of global area</text>
<text transform="translate(1090.366 731.1) scale(0.956 1)" font-size="50">(d) Centered observation</text>
<rect x="131.4" y="1620.861" width="19.9" height="61.139" fill="#d8bfd8"/>
<rect x="201.4" y="1615.892" width="19.9" height="66.108" fill="#d8bfd8"/>
<rect x="216" y="1491.036" width="19.9" height="190.964" fill="#00ffff"/>
<rect x="274.54" y="1590.795" width="19.9" height="91.205" fill="#d8bfd8"/>
<rect x="289.14" y="1473.172" width="19.9" height="208.828" fill="#00ffff"/>
<rect x="347.68" y="1580.731" width="19.9" height="101.269" fill="#d8bfd8"/>
<rect x="362.28" y="1473.172" width="19.9" height="208.828" fill="#00ffff"/>
<rect x="420.82" y="1595.827" width="19.9" height="86.173" fill="#d8bfd8"/>
<rect x="435.42" y="1491.036" width="19.9" height="190.964" fill="#00ffff"/>
<rect x="493.96" y="1600.859" width="19.9" height="81.141" fill="#d8bfd8"/>
<rect x="508.56" y="1498.332" width="19.9" height="183.668" fill="#00ffff"/>
<rect x="567.1" y="1595.827" width="19.9" height="86.173" fill="#d8bfd8"/>
<rect x="581.7" y="1511.038" width="19.9" height="170.962" fill="#00ffff"/>
<rect x="640.24" y="1595.827" width="19.9" height="86.173" fill="#d8bfd8"/>
<rect x="654.84" y="1536.072" width="19.9" height="145.928" fill="#00ffff"/>
<rect x="713.38" y="1615.892" width="19.9" height="66.108" fill="#d8bfd8"/>
<rect x="727.98" y="1553.432" width="19.9" height="128.568" fill="#00ffff"/>
<rect x="786.52" y="1620.861" width="19.9" height="61.139" fill="#d8bfd8"/>
<rect x="801.12" y="1568.466" width="19.9" height="113.534" fill="#00ffff"/>
<rect x="131.4" y="1620.861" width="19.9" height="61.139" fill="none" stroke="#000" stroke-width="2.6"/>
<rect x="201.4" y="1615.892" width="19.9" height="66.108" fill="none" stroke="#000" stroke-width="2.6"/>
<rect x="216" y="1491.036" width="19.9" height="190.964" fill="none" stroke="#000" stroke-width="2.6"/>
<rect x="274.54" y="1590.795" width="19.9" height="91.205" fill="none" stroke="#000" stroke-width="2.6"/>
<rect x="289.14" y="1473.172" width="19.9" height="208.828" fill="none" stroke="#000" stroke-width="2.6"/>
<rect x="347.68" y="1580.731" width="19.9" height="101.269" fill="none" stroke="#000" stroke-width="2.6"/>
<rect x="362.28" y="1473.172" width="19.9" height="208.828" fill="none" stroke="#000" stroke-width="2.6"/>
<rect x="420.82" y="1595.827" width="19.9" height="86.173" fill="none" stroke="#000" stroke-width="2.6"/>
<rect x="435.42" y="1491.036" width="19.9" height="190.964" fill="none" stroke="#000" stroke-width="2.6"/>
<rect x="493.96" y="1600.859" width="19.9" height="81.141" fill="none" stroke="#000" stroke-width="2.6"/>
<rect x="508.56" y="1498.332" width="19.9" height="183.668" fill="none" stroke="#000" stroke-width="2.6"/>
<rect x="567.1" y="1595.827" width="19.9" height="86.173" fill="none" stroke="#000" stroke-width="2.6"/>
<rect x="581.7" y="1511.038" width="19.9" height="170.962" fill="none" stroke="#000" stroke-width="2.6"/>
<rect x="640.24" y="1595.827" width="19.9" height="86.173" fill="none" stroke="#000" stroke-width="2.6"/>
<rect x="654.84" y="1536.072" width="19.9" height="145.928" fill="none" stroke="#000" stroke-width="2.6"/>
<rect x="713.38" y="1615.892" width="19.9" height="66.108" fill="none" stroke="#000" stroke-width="2.6"/>
<rect x="727.98" y="1553.432" width="19.9" height="128.568" fill="none" stroke="#000" stroke-width="2.6"/>
<rect x="786.52" y="1620.861" width="19.9" height="61.139" fill="none" stroke="#000" stroke-width="2.6"/>
<rect x="801.12" y="1568.466" width="19.9" height="113.534" fill="none" stroke="#000" stroke-width="2.6"/>
<line x1="121.66" y1="1619.6" x2="840" y2="1619.6" stroke="#b4b4b4" stroke-width="2.6" stroke-dasharray="11.8 12.54"/>
<line x1="121.66" y1="1556.7" x2="840" y2="1556.7" stroke="#b4b4b4" stroke-width="2.6" stroke-dasharray="11.8 12.54"/>
<line x1="121.66" y1="1493.8" x2="840" y2="1493.8" stroke="#b4b4b4" stroke-width="2.6" stroke-dasharray="11.8 12.54"/>
<line x1="121.66" y1="1430.9" x2="840" y2="1430.9" stroke="#b4b4b4" stroke-width="2.6" stroke-dasharray="11.8 12.54"/>
<line x1="121.66" y1="1368" x2="840" y2="1368" stroke="#b4b4b4" stroke-width="2.6" stroke-dasharray="11.8 12.54"/>
<rect x="122.6" y="1304.6" width="729.4" height="377.4" fill="none" stroke="#000" stroke-width="4.8"/>
<line x1="107.6" y1="1682" x2="122.6" y2="1682" stroke="#000" stroke-width="4"/>
<line x1="114.1" y1="1669.42" x2="122.6" y2="1669.42" stroke="#000" stroke-width="3"/>
<line x1="114.1" y1="1656.84" x2="122.6" y2="1656.84" stroke="#000" stroke-width="3"/>
<line x1="114.1" y1="1644.26" x2="122.6" y2="1644.26" stroke="#000" stroke-width="3"/>
<line x1="114.1" y1="1631.68" x2="122.6" y2="1631.68" stroke="#000" stroke-width="3"/>
<line x1="107.6" y1="1619.1" x2="122.6" y2="1619.1" stroke="#000" stroke-width="4"/>
<line x1="114.1" y1="1606.52" x2="122.6" y2="1606.52" stroke="#000" stroke-width="3"/>
<line x1="114.1" y1="1593.94" x2="122.6" y2="1593.94" stroke="#000" stroke-width="3"/>
<line x1="114.1" y1="1581.36" x2="122.6" y2="1581.36" stroke="#000" stroke-width="3"/>
<line x1="114.1" y1="1568.78" x2="122.6" y2="1568.78" stroke="#000" stroke-width="3"/>
<line x1="107.6" y1="1556.2" x2="122.6" y2="1556.2" stroke="#000" stroke-width="4"/>
<line x1="114.1" y1="1543.62" x2="122.6" y2="1543.62" stroke="#000" stroke-width="3"/>
<line x1="114.1" y1="1531.04" x2="122.6" y2="1531.04" stroke="#000" stroke-width="3"/>
<line x1="114.1" y1="1518.46" x2="122.6" y2="1518.46" stroke="#000" stroke-width="3"/>
<line x1="114.1" y1="1505.88" x2="122.6" y2="1505.88" stroke="#000" stroke-width="3"/>
<line x1="107.6" y1="1493.3" x2="122.6" y2="1493.3" stroke="#000" stroke-width="4"/>
<line x1="114.1" y1="1480.72" x2="122.6" y2="1480.72" stroke="#000" stroke-width="3"/>
<line x1="114.1" y1="1468.14" x2="122.6" y2="1468.14" stroke="#000" stroke-width="3"/>
<line x1="114.1" y1="1455.56" x2="122.6" y2="1455.56" stroke="#000" stroke-width="3"/>
<line x1="114.1" y1="1442.98" x2="122.6" y2="1442.98" stroke="#000" stroke-width="3"/>
<line x1="107.6" y1="1430.4" x2="122.6" y2="1430.4" stroke="#000" stroke-width="4"/>
<line x1="114.1" y1="1417.82" x2="122.6" y2="1417.82" stroke="#000" stroke-width="3"/>
<line x1="114.1" y1="1405.24" x2="122.6" y2="1405.24" stroke="#000" stroke-width="3"/>
<line x1="114.1" y1="1392.66" x2="122.6" y2="1392.66" stroke="#000" stroke-width="3"/>
<line x1="114.1" y1="1380.08" x2="122.6" y2="1380.08" stroke="#000" stroke-width="3"/>
<line x1="107.6" y1="1367.5" x2="122.6" y2="1367.5" stroke="#000" stroke-width="4"/>
<line x1="114.1" y1="1354.92" x2="122.6" y2="1354.92" stroke="#000" stroke-width="3"/>
<line x1="114.1" y1="1342.34" x2="122.6" y2="1342.34" stroke="#000" stroke-width="3"/>
<line x1="114.1" y1="1329.76" x2="122.6" y2="1329.76" stroke="#000" stroke-width="3"/>
<line x1="114.1" y1="1317.18" x2="122.6" y2="1317.18" stroke="#000" stroke-width="3"/>
<line x1="107.6" y1="1304.6" x2="122.6" y2="1304.6" stroke="#000" stroke-width="4"/>
<line x1="187.18" y1="1682" x2="187.18" y2="1698" stroke="#000" stroke-width="4.2"/>
<line x1="260.15" y1="1682" x2="260.15" y2="1698" stroke="#000" stroke-width="4.2"/>
<line x1="333.12" y1="1682" x2="333.12" y2="1698" stroke="#000" stroke-width="4.2"/>
<line x1="406.09" y1="1682" x2="406.09" y2="1698" stroke="#000" stroke-width="4.2"/>
<line x1="479.06" y1="1682" x2="479.06" y2="1698" stroke="#000" stroke-width="4.2"/>
<line x1="552.03" y1="1682" x2="552.03" y2="1698" stroke="#000" stroke-width="4.2"/>
<line x1="625" y1="1682" x2="625" y2="1698" stroke="#000" stroke-width="4.2"/>
<line x1="697.97" y1="1682" x2="697.97" y2="1698" stroke="#000" stroke-width="4.2"/>
<line x1="770.94" y1="1682" x2="770.94" y2="1698" stroke="#000" stroke-width="4.2"/>
<text transform="translate(51.674 1694.814) scale(0.921 1)" font-size="41.2">0.0</text>
<text transform="translate(52.053 1632.381) scale(0.921 1)" font-size="41.2">0.1</text>
<text transform="translate(52.053 1569.947) scale(0.921 1)" font-size="41.2">0.2</text>
<text transform="translate(51.674 1507.514) scale(0.921 1)" font-size="41.2">0.3</text>
<text transform="translate(51.295 1445.081) scale(0.921 1)" font-size="41.2">0.4</text>
<text transform="translate(51.674 1382.647) scale(0.921 1)" font-size="41.2">0.5</text>
<text transform="translate(51.674 1320.214) scale(0.921 1)" font-size="41.2">0.6</text>
<text transform="translate(26 1654.022) rotate(-90) scale(0.959 1)" font-size="33.2">Fraction of global area</text>
<text transform="translate(254.853 1280.9) scale(0.956 1)" font-size="50">(e) Uncentered DCPP</text>
<rect x="997" y="1638.599" width="19.9" height="43.401" fill="#d8bfd8"/>
<rect x="1067" y="1538.274" width="19.9" height="143.726" fill="#d8bfd8"/>
<rect x="1081.6" y="1473.549" width="19.9" height="208.451" fill="#00ffff"/>
<rect x="1140.14" y="1491.35" width="19.9" height="190.65" fill="#d8bfd8"/>
<rect x="1154.74" y="1428.89" width="19.9" height="253.11" fill="#00ffff"/>
<rect x="1213.28" y="1463.108" width="19.9" height="218.892" fill="#d8bfd8"/>
<rect x="1227.88" y="1403.856" width="19.9" height="278.144" fill="#00ffff"/>
<rect x="1286.42" y="1458.516" width="19.9" height="223.484" fill="#d8bfd8"/>
<rect x="1301.02" y="1371.022" width="19.9" height="310.978" fill="#00ffff"/>
<rect x="1359.56" y="1446.188" width="19.9" height="235.812" fill="#d8bfd8"/>
<rect x="1374.16" y="1358.694" width="19.9" height="323.306" fill="#00ffff"/>
<rect x="1432.7" y="1438.451" width="19.9" height="243.549" fill="#d8bfd8"/>
<rect x="1447.3" y="1348.19" width="19.9" height="333.81" fill="#00ffff"/>
<rect x="1505.84" y="1438.451" width="19.9" height="243.549" fill="#d8bfd8"/>
<rect x="1520.44" y="1348.19" width="19.9" height="333.81" fill="#00ffff"/>
<rect x="1578.98" y="1436.187" width="19.9" height="245.813" fill="#d8bfd8"/>
<rect x="1593.58" y="1348.19" width="19.9" height="333.81" fill="#00ffff"/>
<rect x="1652.12" y="1433.922" width="19.9" height="248.078" fill="#d8bfd8"/>
<rect x="1666.72" y="1348.19" width="19.9" height="333.81" fill="#00ffff"/>
<rect x="997" y="1638.599" width="19.9" height="43.401" fill="none" stroke="#000" stroke-width="2.6"/>
<rect x="1067" y="1538.274" width="19.9" height="143.726" fill="none" stroke="#000" stroke-width="2.6"/>
<rect x="1081.6" y="1473.549" width="19.9" height="208.451" fill="none" stroke="#000" stroke-width="2.6"/>
<rect x="1140.14" y="1491.35" width="19.9" height="190.65" fill="none" stroke="#000" stroke-width="2.6"/>
<rect x="1154.74" y="1428.89" width="19.9" height="253.11" fill="none" stroke="#000" stroke-width="2.6"/>
<rect x="1213.28" y="1463.108" width="19.9" height="218.892" fill="none" stroke="#000" stroke-width="2.6"/>
<rect x="1227.88" y="1403.856" width="19.9" height="278.144" fill="none" stroke="#000" stroke-width="2.6"/>
<rect x="1286.42" y="1458.516" width="19.9" height="223.484" fill="none" stroke="#000" stroke-width="2.6"/>
<rect x="1301.02" y="1371.022" width="19.9" height="310.978" fill="none" stroke="#000" stroke-width="2.6"/>
<rect x="1359.56" y="1446.188" width="19.9" height="235.812" fill="none" stroke="#000" stroke-width="2.6"/>
<rect x="1374.16" y="1358.694" width="19.9" height="323.306" fill="none" stroke="#000" stroke-width="2.6"/>
<rect x="1432.7" y="1438.451" width="19.9" height="243.549" fill="none" stroke="#000" stroke-width="2.6"/>
<rect x="1447.3" y="1348.19" width="19.9" height="333.81" fill="none" stroke="#000" stroke-width="2.6"/>
<rect x="1505.84" y="1438.451" width="19.9" height="243.549" fill="none" stroke="#000" stroke-width="2.6"/>
<rect x="1520.44" y="1348.19" width="19.9" height="333.81" fill="none" stroke="#000" stroke-width="2.6"/>
<rect x="1578.98" y="1436.187" width="19.9" height="245.813" fill="none" stroke="#000" stroke-width="2.6"/>
<rect x="1593.58" y="1348.19" width="19.9" height="333.81" fill="none" stroke="#000" stroke-width="2.6"/>
<rect x="1652.12" y="1433.922" width="19.9" height="248.078" fill="none" stroke="#000" stroke-width="2.6"/>
<rect x="1666.72" y="1348.19" width="19.9" height="333.81" fill="none" stroke="#000" stroke-width="2.6"/>
<line x1="987.26" y1="1619.6" x2="1708.2" y2="1619.6" stroke="#b4b4b4" stroke-width="2.6" stroke-dasharray="11.8 12.54"/>
<line x1="987.26" y1="1556.7" x2="1708.2" y2="1556.7" stroke="#b4b4b4" stroke-width="2.6" stroke-dasharray="11.8 12.54"/>
<line x1="987.26" y1="1493.8" x2="1708.2" y2="1493.8" stroke="#b4b4b4" stroke-width="2.6" stroke-dasharray="11.8 12.54"/>
<line x1="987.26" y1="1430.9" x2="1708.2" y2="1430.9" stroke="#b4b4b4" stroke-width="2.6" stroke-dasharray="11.8 12.54"/>
<line x1="987.26" y1="1368" x2="1708.2" y2="1368" stroke="#b4b4b4" stroke-width="2.6" stroke-dasharray="11.8 12.54"/>
<rect x="989" y="1304.6" width="731.2" height="377.4" fill="none" stroke="#000" stroke-width="4.8"/>
<line x1="974" y1="1682" x2="989" y2="1682" stroke="#000" stroke-width="4"/>
<line x1="980.5" y1="1669.42" x2="989" y2="1669.42" stroke="#000" stroke-width="3"/>
<line x1="980.5" y1="1656.84" x2="989" y2="1656.84" stroke="#000" stroke-width="3"/>
<line x1="980.5" y1="1644.26" x2="989" y2="1644.26" stroke="#000" stroke-width="3"/>
<line x1="980.5" y1="1631.68" x2="989" y2="1631.68" stroke="#000" stroke-width="3"/>
<line x1="974" y1="1619.1" x2="989" y2="1619.1" stroke="#000" stroke-width="4"/>
<line x1="980.5" y1="1606.52" x2="989" y2="1606.52" stroke="#000" stroke-width="3"/>
<line x1="980.5" y1="1593.94" x2="989" y2="1593.94" stroke="#000" stroke-width="3"/>
<line x1="980.5" y1="1581.36" x2="989" y2="1581.36" stroke="#000" stroke-width="3"/>
<line x1="980.5" y1="1568.78" x2="989" y2="1568.78" stroke="#000" stroke-width="3"/>
<line x1="974" y1="1556.2" x2="989" y2="1556.2" stroke="#000" stroke-width="4"/>
<line x1="980.5" y1="1543.62" x2="989" y2="1543.62" stroke="#000" stroke-width="3"/>
<line x1="980.5" y1="1531.04" x2="989" y2="1531.04" stroke="#000" stroke-width="3"/>
<line x1="980.5" y1="1518.46" x2="989" y2="1518.46" stroke="#000" stroke-width="3"/>
<line x1="980.5" y1="1505.88" x2="989" y2="1505.88" stroke="#000" stroke-width="3"/>
<line x1="974" y1="1493.3" x2="989" y2="1493.3" stroke="#000" stroke-width="4"/>
<line x1="980.5" y1="1480.72" x2="989" y2="1480.72" stroke="#000" stroke-width="3"/>
<line x1="980.5" y1="1468.14" x2="989" y2="1468.14" stroke="#000" stroke-width="3"/>
<line x1="980.5" y1="1455.56" x2="989" y2="1455.56" stroke="#000" stroke-width="3"/>
<line x1="980.5" y1="1442.98" x2="989" y2="1442.98" stroke="#000" stroke-width="3"/>
<line x1="974" y1="1430.4" x2="989" y2="1430.4" stroke="#000" stroke-width="4"/>
<line x1="980.5" y1="1417.82" x2="989" y2="1417.82" stroke="#000" stroke-width="3"/>
<line x1="980.5" y1="1405.24" x2="989" y2="1405.24" stroke="#000" stroke-width="3"/>
<line x1="980.5" y1="1392.66" x2="989" y2="1392.66" stroke="#000" stroke-width="3"/>
<line x1="980.5" y1="1380.08" x2="989" y2="1380.08" stroke="#000" stroke-width="3"/>
<line x1="974" y1="1367.5" x2="989" y2="1367.5" stroke="#000" stroke-width="4"/>
<line x1="980.5" y1="1354.92" x2="989" y2="1354.92" stroke="#000" stroke-width="3"/>
<line x1="980.5" y1="1342.34" x2="989" y2="1342.34" stroke="#000" stroke-width="3"/>
<line x1="980.5" y1="1329.76" x2="989" y2="1329.76" stroke="#000" stroke-width="3"/>
<line x1="980.5" y1="1317.18" x2="989" y2="1317.18" stroke="#000" stroke-width="3"/>
<line x1="974" y1="1304.6" x2="989" y2="1304.6" stroke="#000" stroke-width="4"/>
<line x1="1052.78" y1="1682" x2="1052.78" y2="1698" stroke="#000" stroke-width="4.2"/>
<line x1="1125.75" y1="1682" x2="1125.75" y2="1698" stroke="#000" stroke-width="4.2"/>
<line x1="1198.72" y1="1682" x2="1198.72" y2="1698" stroke="#000" stroke-width="4.2"/>
<line x1="1271.69" y1="1682" x2="1271.69" y2="1698" stroke="#000" stroke-width="4.2"/>
<line x1="1344.66" y1="1682" x2="1344.66" y2="1698" stroke="#000" stroke-width="4.2"/>
<line x1="1417.63" y1="1682" x2="1417.63" y2="1698" stroke="#000" stroke-width="4.2"/>
<line x1="1490.6" y1="1682" x2="1490.6" y2="1698" stroke="#000" stroke-width="4.2"/>
<line x1="1563.57" y1="1682" x2="1563.57" y2="1698" stroke="#000" stroke-width="4.2"/>
<line x1="1636.54" y1="1682" x2="1636.54" y2="1698" stroke="#000" stroke-width="4.2"/>
<text transform="translate(917.274 1694.814) scale(0.921 1)" font-size="41.2">0.0</text>
<text transform="translate(917.653 1632.381) scale(0.921 1)" font-size="41.2">0.1</text>
<text transform="translate(917.653 1569.947) scale(0.921 1)" font-size="41.2">0.2</text>
<text transform="translate(917.274 1507.514) scale(0.921 1)" font-size="41.2">0.3</text>
<text transform="translate(916.895 1445.081) scale(0.921 1)" font-size="41.2">0.4</text>
<text transform="translate(917.274 1382.647) scale(0.921 1)" font-size="41.2">0.5</text>
<text transform="translate(917.274 1320.214) scale(0.921 1)" font-size="41.2">0.6</text>
<text transform="translate(893.9 1654.022) rotate(-90) scale(0.959 1)" font-size="33.2">Fraction of global area</text>
<text transform="translate(1128.845 1280.9) scale(0.956 1)" font-size="50">(f) Uncentered DCPP</text>
<rect x="131.4" y="2171.659" width="19.9" height="60.541" fill="#d8bfd8"/>
<rect x="201.4" y="2218.558" width="19.9" height="13.642" fill="#d8bfd8"/>
<rect x="216" y="2218.558" width="19.9" height="13.642" fill="#00ffff"/>
<rect x="274.54" y="2216.295" width="19.9" height="15.905" fill="#d8bfd8"/>
<rect x="289.14" y="2211.265" width="19.9" height="20.935" fill="#00ffff"/>
<rect x="347.68" y="2203.533" width="19.9" height="28.667" fill="#d8bfd8"/>
<rect x="362.28" y="2196.24" width="19.9" height="35.96" fill="#00ffff"/>
<rect x="420.82" y="2196.24" width="19.9" height="35.96" fill="#d8bfd8"/>
<rect x="435.42" y="2173.483" width="19.9" height="58.717" fill="#00ffff"/>
<rect x="493.96" y="2193.537" width="19.9" height="38.663" fill="#d8bfd8"/>
<rect x="508.56" y="2173.483" width="19.9" height="58.717" fill="#00ffff"/>
<rect x="567.1" y="2193.537" width="19.9" height="38.663" fill="#d8bfd8"/>
<rect x="581.7" y="2148.399" width="19.9" height="83.801" fill="#00ffff"/>
<rect x="640.24" y="2200.83" width="19.9" height="31.37" fill="#d8bfd8"/>
<rect x="654.84" y="2178.512" width="19.9" height="53.688" fill="#00ffff"/>
<rect x="713.38" y="2198.503" width="19.9" height="33.697" fill="#d8bfd8"/>
<rect x="727.98" y="2148.399" width="19.9" height="83.801" fill="#00ffff"/>
<rect x="786.52" y="2198.503" width="19.9" height="33.697" fill="#d8bfd8"/>
<rect x="801.12" y="2126.081" width="19.9" height="106.119" fill="#00ffff"/>
<rect x="131.4" y="2171.659" width="19.9" height="60.541" fill="none" stroke="#000" stroke-width="2.6"/>
<rect x="201.4" y="2218.558" width="19.9" height="13.642" fill="none" stroke="#000" stroke-width="2.6"/>
<rect x="216" y="2218.558" width="19.9" height="13.642" fill="none" stroke="#000" stroke-width="2.6"/>
<rect x="274.54" y="2216.295" width="19.9" height="15.905" fill="none" stroke="#000" stroke-width="2.6"/>
<rect x="289.14" y="2211.265" width="19.9" height="20.935" fill="none" stroke="#000" stroke-width="2.6"/>
<rect x="347.68" y="2203.533" width="19.9" height="28.667" fill="none" stroke="#000" stroke-width="2.6"/>
<rect x="362.28" y="2196.24" width="19.9" height="35.96" fill="none" stroke="#000" stroke-width="2.6"/>
<rect x="420.82" y="2196.24" width="19.9" height="35.96" fill="none" stroke="#000" stroke-width="2.6"/>
<rect x="435.42" y="2173.483" width="19.9" height="58.717" fill="none" stroke="#000" stroke-width="2.6"/>
<rect x="493.96" y="2193.537" width="19.9" height="38.663" fill="none" stroke="#000" stroke-width="2.6"/>
<rect x="508.56" y="2173.483" width="19.9" height="58.717" fill="none" stroke="#000" stroke-width="2.6"/>
<rect x="567.1" y="2193.537" width="19.9" height="38.663" fill="none" stroke="#000" stroke-width="2.6"/>
<rect x="581.7" y="2148.399" width="19.9" height="83.801" fill="none" stroke="#000" stroke-width="2.6"/>
<rect x="640.24" y="2200.83" width="19.9" height="31.37" fill="none" stroke="#000" stroke-width="2.6"/>
<rect x="654.84" y="2178.512" width="19.9" height="53.688" fill="none" stroke="#000" stroke-width="2.6"/>
<rect x="713.38" y="2198.503" width="19.9" height="33.697" fill="none" stroke="#000" stroke-width="2.6"/>
<rect x="727.98" y="2148.399" width="19.9" height="83.801" fill="none" stroke="#000" stroke-width="2.6"/>
<rect x="786.52" y="2198.503" width="19.9" height="33.697" fill="none" stroke="#000" stroke-width="2.6"/>
<rect x="801.12" y="2126.081" width="19.9" height="106.119" fill="none" stroke="#000" stroke-width="2.6"/>
<line x1="121.66" y1="2169.833" x2="840" y2="2169.833" stroke="#b4b4b4" stroke-width="2.6" stroke-dasharray="11.8 12.54"/>
<line x1="121.66" y1="2106.967" x2="840" y2="2106.967" stroke="#b4b4b4" stroke-width="2.6" stroke-dasharray="11.8 12.54"/>
<line x1="121.66" y1="2044.1" x2="840" y2="2044.1" stroke="#b4b4b4" stroke-width="2.6" stroke-dasharray="11.8 12.54"/>
<line x1="121.66" y1="1981.233" x2="840" y2="1981.233" stroke="#b4b4b4" stroke-width="2.6" stroke-dasharray="11.8 12.54"/>
<line x1="121.66" y1="1918.367" x2="840" y2="1918.367" stroke="#b4b4b4" stroke-width="2.6" stroke-dasharray="11.8 12.54"/>
<rect x="122.6" y="1855" width="729.4" height="377.2" fill="none" stroke="#000" stroke-width="4.8"/>
<line x1="107.6" y1="2232.2" x2="122.6" y2="2232.2" stroke="#000" stroke-width="4"/>
<line x1="114.1" y1="2219.627" x2="122.6" y2="2219.627" stroke="#000" stroke-width="3"/>
<line x1="114.1" y1="2207.053" x2="122.6" y2="2207.053" stroke="#000" stroke-width="3"/>
<line x1="114.1" y1="2194.48" x2="122.6" y2="2194.48" stroke="#000" stroke-width="3"/>
<line x1="114.1" y1="2181.907" x2="122.6" y2="2181.907" stroke="#000" stroke-width="3"/>
<line x1="107.6" y1="2169.333" x2="122.6" y2="2169.333" stroke="#000" stroke-width="4"/>
<line x1="114.1" y1="2156.76" x2="122.6" y2="2156.76" stroke="#000" stroke-width="3"/>
<line x1="114.1" y1="2144.187" x2="122.6" y2="2144.187" stroke="#000" stroke-width="3"/>
<line x1="114.1" y1="2131.613" x2="122.6" y2="2131.613" stroke="#000" stroke-width="3"/>
<line x1="114.1" y1="2119.04" x2="122.6" y2="2119.04" stroke="#000" stroke-width="3"/>
<line x1="107.6" y1="2106.467" x2="122.6" y2="2106.467" stroke="#000" stroke-width="4"/>
<line x1="114.1" y1="2093.893" x2="122.6" y2="2093.893" stroke="#000" stroke-width="3"/>
<line x1="114.1" y1="2081.32" x2="122.6" y2="2081.32" stroke="#000" stroke-width="3"/>
<line x1="114.1" y1="2068.747" x2="122.6" y2="2068.747" stroke="#000" stroke-width="3"/>
<line x1="114.1" y1="2056.173" x2="122.6" y2="2056.173" stroke="#000" stroke-width="3"/>
<line x1="107.6" y1="2043.6" x2="122.6" y2="2043.6" stroke="#000" stroke-width="4"/>
<line x1="114.1" y1="2031.027" x2="122.6" y2="2031.027" stroke="#000" stroke-width="3"/>
<line x1="114.1" y1="2018.453" x2="122.6" y2="2018.453" stroke="#000" stroke-width="3"/>
<line x1="114.1" y1="2005.88" x2="122.6" y2="2005.88" stroke="#000" stroke-width="3"/>
<line x1="114.1" y1="1993.307" x2="122.6" y2="1993.307" stroke="#000" stroke-width="3"/>
<line x1="107.6" y1="1980.733" x2="122.6" y2="1980.733" stroke="#000" stroke-width="4"/>
<line x1="114.1" y1="1968.16" x2="122.6" y2="1968.16" stroke="#000" stroke-width="3"/>
<line x1="114.1" y1="1955.587" x2="122.6" y2="1955.587" stroke="#000" stroke-width="3"/>
<line x1="114.1" y1="1943.013" x2="122.6" y2="1943.013" stroke="#000" stroke-width="3"/>
<line x1="114.1" y1="1930.44" x2="122.6" y2="1930.44" stroke="#000" stroke-width="3"/>
<line x1="107.6" y1="1917.867" x2="122.6" y2="1917.867" stroke="#000" stroke-width="4"/>
<line x1="114.1" y1="1905.293" x2="122.6" y2="1905.293" stroke="#000" stroke-width="3"/>
<line x1="114.1" y1="1892.72" x2="122.6" y2="1892.72" stroke="#000" stroke-width="3"/>
<line x1="114.1" y1="1880.147" x2="122.6" y2="1880.147" stroke="#000" stroke-width="3"/>
<line x1="114.1" y1="1867.573" x2="122.6" y2="1867.573" stroke="#000" stroke-width="3"/>
<line x1="107.6" y1="1855" x2="122.6" y2="1855" stroke="#000" stroke-width="4"/>
<line x1="187.18" y1="2232.2" x2="187.18" y2="2248.2" stroke="#000" stroke-width="4.2"/>
<line x1="260.15" y1="2232.2" x2="260.15" y2="2248.2" stroke="#000" stroke-width="4.2"/>
<line x1="333.12" y1="2232.2" x2="333.12" y2="2248.2" stroke="#000" stroke-width="4.2"/>
<line x1="406.09" y1="2232.2" x2="406.09" y2="2248.2" stroke="#000" stroke-width="4.2"/>
<line x1="479.06" y1="2232.2" x2="479.06" y2="2248.2" stroke="#000" stroke-width="4.2"/>
<line x1="552.03" y1="2232.2" x2="552.03" y2="2248.2" stroke="#000" stroke-width="4.2"/>
<line x1="625" y1="2232.2" x2="625" y2="2248.2" stroke="#000" stroke-width="4.2"/>
<line x1="697.97" y1="2232.2" x2="697.97" y2="2248.2" stroke="#000" stroke-width="4.2"/>
<line x1="770.94" y1="2232.2" x2="770.94" y2="2248.2" stroke="#000" stroke-width="4.2"/>
<text transform="translate(51.674 2245.014) scale(0.921 1)" font-size="41.2">0.0</text>
<text transform="translate(52.053 2182.614) scale(0.921 1)" font-size="41.2">0.1</text>
<text transform="translate(52.053 2120.214) scale(0.921 1)" font-size="41.2">0.2</text>
<text transform="translate(51.674 2057.814) scale(0.921 1)" font-size="41.2">0.3</text>
<text transform="translate(51.295 1995.414) scale(0.921 1)" font-size="41.2">0.4</text>
<text transform="translate(51.674 1933.014) scale(0.921 1)" font-size="41.2">0.5</text>
<text transform="translate(51.674 1870.614) scale(0.921 1)" font-size="41.2">0.6</text>
<text transform="translate(26 2204.322) rotate(-90) scale(0.959 1)" font-size="33.2">Fraction of global area</text>
<text transform="translate(279.948 1831.3) scale(0.956 1)" font-size="50">(g) Centered DCPP</text>
<rect x="997" y="2188.508" width="19.9" height="43.692" fill="#d8bfd8"/>
<rect x="1067" y="2225.85" width="19.9" height="6.35" fill="#d8bfd8"/>
<rect x="1081.6" y="2223.587" width="19.9" height="8.613" fill="#00ffff"/>
<rect x="1140.14" y="2218.558" width="19.9" height="13.642" fill="#d8bfd8"/>
<rect x="1154.74" y="2223.587" width="19.9" height="8.613" fill="#00ffff"/>
<rect x="1213.28" y="2213.591" width="19.9" height="18.609" fill="#d8bfd8"/>
<rect x="1227.88" y="2216.295" width="19.9" height="15.905" fill="#00ffff"/>
<rect x="1286.42" y="2208.562" width="19.9" height="23.638" fill="#d8bfd8"/>
<rect x="1301.02" y="2206.299" width="19.9" height="25.901" fill="#00ffff"/>
<rect x="1359.56" y="2193.537" width="19.9" height="38.663" fill="#d8bfd8"/>
<rect x="1374.16" y="2196.24" width="19.9" height="35.96" fill="#00ffff"/>
<rect x="1432.7" y="2188.508" width="19.9" height="43.692" fill="#d8bfd8"/>
<rect x="1447.3" y="2173.483" width="19.9" height="58.717" fill="#00ffff"/>
<rect x="1505.84" y="2181.215" width="19.9" height="50.985" fill="#d8bfd8"/>
<rect x="1520.44" y="2171.219" width="19.9" height="60.981" fill="#00ffff"/>
<rect x="1578.98" y="2168.453" width="19.9" height="63.747" fill="#d8bfd8"/>
<rect x="1593.58" y="2148.399" width="19.9" height="83.801" fill="#00ffff"/>
<rect x="1652.12" y="2148.399" width="19.9" height="83.801" fill="#d8bfd8"/>
<rect x="1666.72" y="2116.085" width="19.9" height="116.115" fill="#00ffff"/>
<rect x="997" y="2188.508" width="19.9" height="43.692" fill="none" stroke="#000" stroke-width="2.6"/>
<rect x="1067" y="2225.85" width="19.9" height="6.35" fill="none" stroke="#000" stroke-width="2.6"/>
<rect x="1081.6" y="2223.587" width="19.9" height="8.613" fill="none" stroke="#000" stroke-width="2.6"/>
<rect x="1140.14" y="2218.558" width="19.9" height="13.642" fill="none" stroke="#000" stroke-width="2.6"/>
<rect x="1154.74" y="2223.587" width="19.9" height="8.613" fill="none" stroke="#000" stroke-width="2.6"/>
<rect x="1213.28" y="2213.591" width="19.9" height="18.609" fill="none" stroke="#000" stroke-width="2.6"/>
<rect x="1227.88" y="2216.295" width="19.9" height="15.905" fill="none" stroke="#000" stroke-width="2.6"/>
<rect x="1286.42" y="2208.562" width="19.9" height="23.638" fill="none" stroke="#000" stroke-width="2.6"/>
<rect x="1301.02" y="2206.299" width="19.9" height="25.901" fill="none" stroke="#000" stroke-width="2.6"/>
<rect x="1359.56" y="2193.537" width="19.9" height="38.663" fill="none" stroke="#000" stroke-width="2.6"/>
<rect x="1374.16" y="2196.24" width="19.9" height="35.96" fill="none" stroke="#000" stroke-width="2.6"/>
<rect x="1432.7" y="2188.508" width="19.9" height="43.692" fill="none" stroke="#000" stroke-width="2.6"/>
<rect x="1447.3" y="2173.483" width="19.9" height="58.717" fill="none" stroke="#000" stroke-width="2.6"/>
<rect x="1505.84" y="2181.215" width="19.9" height="50.985" fill="none" stroke="#000" stroke-width="2.6"/>
<rect x="1520.44" y="2171.219" width="19.9" height="60.981" fill="none" stroke="#000" stroke-width="2.6"/>
<rect x="1578.98" y="2168.453" width="19.9" height="63.747" fill="none" stroke="#000" stroke-width="2.6"/>
<rect x="1593.58" y="2148.399" width="19.9" height="83.801" fill="none" stroke="#000" stroke-width="2.6"/>
<rect x="1652.12" y="2148.399" width="19.9" height="83.801" fill="none" stroke="#000" stroke-width="2.6"/>
<rect x="1666.72" y="2116.085" width="19.9" height="116.115" fill="none" stroke="#000" stroke-width="2.6"/>
<line x1="987.26" y1="2169.833" x2="1708.2" y2="2169.833" stroke="#b4b4b4" stroke-width="2.6" stroke-dasharray="11.8 12.54"/>
<line x1="987.26" y1="2106.967" x2="1708.2" y2="2106.967" stroke="#b4b4b4" stroke-width="2.6" stroke-dasharray="11.8 12.54"/>
<line x1="987.26" y1="2044.1" x2="1708.2" y2="2044.1" stroke="#b4b4b4" stroke-width="2.6" stroke-dasharray="11.8 12.54"/>
<line x1="987.26" y1="1981.233" x2="1708.2" y2="1981.233" stroke="#b4b4b4" stroke-width="2.6" stroke-dasharray="11.8 12.54"/>
<line x1="987.26" y1="1918.367" x2="1708.2" y2="1918.367" stroke="#b4b4b4" stroke-width="2.6" stroke-dasharray="11.8 12.54"/>
<rect x="989" y="1855" width="731.2" height="377.2" fill="none" stroke="#000" stroke-width="4.8"/>
<line x1="974" y1="2232.2" x2="989" y2="2232.2" stroke="#000" stroke-width="4"/>
<line x1="980.5" y1="2219.627" x2="989" y2="2219.627" stroke="#000" stroke-width="3"/>
<line x1="980.5" y1="2207.053" x2="989" y2="2207.053" stroke="#000" stroke-width="3"/>
<line x1="980.5" y1="2194.48" x2="989" y2="2194.48" stroke="#000" stroke-width="3"/>
<line x1="980.5" y1="2181.907" x2="989" y2="2181.907" stroke="#000" stroke-width="3"/>
<line x1="974" y1="2169.333" x2="989" y2="2169.333" stroke="#000" stroke-width="4"/>
<line x1="980.5" y1="2156.76" x2="989" y2="2156.76" stroke="#000" stroke-width="3"/>
<line x1="980.5" y1="2144.187" x2="989" y2="2144.187" stroke="#000" stroke-width="3"/>
<line x1="980.5" y1="2131.613" x2="989" y2="2131.613" stroke="#000" stroke-width="3"/>
<line x1="980.5" y1="2119.04" x2="989" y2="2119.04" stroke="#000" stroke-width="3"/>
<line x1="974" y1="2106.467" x2="989" y2="2106.467" stroke="#000" stroke-width="4"/>
<line x1="980.5" y1="2093.893" x2="989" y2="2093.893" stroke="#000" stroke-width="3"/>
<line x1="980.5" y1="2081.32" x2="989" y2="2081.32" stroke="#000" stroke-width="3"/>
<line x1="980.5" y1="2068.747" x2="989" y2="2068.747" stroke="#000" stroke-width="3"/>
<line x1="980.5" y1="2056.173" x2="989" y2="2056.173" stroke="#000" stroke-width="3"/>
<line x1="974" y1="2043.6" x2="989" y2="2043.6" stroke="#000" stroke-width="4"/>
<line x1="980.5" y1="2031.027" x2="989" y2="2031.027" stroke="#000" stroke-width="3"/>
<line x1="980.5" y1="2018.453" x2="989" y2="2018.453" stroke="#000" stroke-width="3"/>
<line x1="980.5" y1="2005.88" x2="989" y2="2005.88" stroke="#000" stroke-width="3"/>
<line x1="980.5" y1="1993.307" x2="989" y2="1993.307" stroke="#000" stroke-width="3"/>
<line x1="974" y1="1980.733" x2="989" y2="1980.733" stroke="#000" stroke-width="4"/>
<line x1="980.5" y1="1968.16" x2="989" y2="1968.16" stroke="#000" stroke-width="3"/>
<line x1="980.5" y1="1955.587" x2="989" y2="1955.587" stroke="#000" stroke-width="3"/>
<line x1="980.5" y1="1943.013" x2="989" y2="1943.013" stroke="#000" stroke-width="3"/>
<line x1="980.5" y1="1930.44" x2="989" y2="1930.44" stroke="#000" stroke-width="3"/>
<line x1="974" y1="1917.867" x2="989" y2="1917.867" stroke="#000" stroke-width="4"/>
<line x1="980.5" y1="1905.293" x2="989" y2="1905.293" stroke="#000" stroke-width="3"/>
<line x1="980.5" y1="1892.72" x2="989" y2="1892.72" stroke="#000" stroke-width="3"/>
<line x1="980.5" y1="1880.147" x2="989" y2="1880.147" stroke="#000" stroke-width="3"/>
<line x1="980.5" y1="1867.573" x2="989" y2="1867.573" stroke="#000" stroke-width="3"/>
<line x1="974" y1="1855" x2="989" y2="1855" stroke="#000" stroke-width="4"/>
<line x1="1052.78" y1="2232.2" x2="1052.78" y2="2248.2" stroke="#000" stroke-width="4.2"/>
<line x1="1125.75" y1="2232.2" x2="1125.75" y2="2248.2" stroke="#000" stroke-width="4.2"/>
<line x1="1198.72" y1="2232.2" x2="1198.72" y2="2248.2" stroke="#000" stroke-width="4.2"/>
<line x1="1271.69" y1="2232.2" x2="1271.69" y2="2248.2" stroke="#000" stroke-width="4.2"/>
<line x1="1344.66" y1="2232.2" x2="1344.66" y2="2248.2" stroke="#000" stroke-width="4.2"/>
<line x1="1417.63" y1="2232.2" x2="1417.63" y2="2248.2" stroke="#000" stroke-width="4.2"/>
<line x1="1490.6" y1="2232.2" x2="1490.6" y2="2248.2" stroke="#000" stroke-width="4.2"/>
<line x1="1563.57" y1="2232.2" x2="1563.57" y2="2248.2" stroke="#000" stroke-width="4.2"/>
<line x1="1636.54" y1="2232.2" x2="1636.54" y2="2248.2" stroke="#000" stroke-width="4.2"/>
<text transform="translate(917.274 2245.014) scale(0.921 1)" font-size="41.2">0.0</text>
<text transform="translate(917.653 2182.614) scale(0.921 1)" font-size="41.2">0.1</text>
<text transform="translate(917.653 2120.214) scale(0.921 1)" font-size="41.2">0.2</text>
<text transform="translate(917.274 2057.814) scale(0.921 1)" font-size="41.2">0.3</text>
<text transform="translate(916.895 1995.414) scale(0.921 1)" font-size="41.2">0.4</text>
<text transform="translate(917.274 1933.014) scale(0.921 1)" font-size="41.2">0.5</text>
<text transform="translate(917.274 1870.614) scale(0.921 1)" font-size="41.2">0.6</text>
<text transform="translate(893.9 2204.322) rotate(-90) scale(0.959 1)" font-size="33.2">Fraction of global area</text>
<text transform="translate(1147.248 1831.3) scale(0.956 1)" font-size="50">(h) Centered DCPP</text>
<rect x="133" y="262" width="51" height="72" fill="#fff"/>
<rect x="143.8" y="218.6" width="32.1" height="49.5" fill="#d8bfd8" stroke="#000" stroke-width="2.6"/>
<rect x="143.8" y="283.9" width="32.1" height="49.5" fill="#00ffff" stroke="#000" stroke-width="2.6"/>
<text transform="translate(183.954 257.7) scale(0.968 1)" font-size="44.5">FY1-10</text>
<text transform="translate(183.954 323.7) scale(0.968 1)" font-size="44.5">FY1-20</text>
<text transform="translate(97.3 2364.9) rotate(-53.5) scale(0.94 1)" font-size="40">DCPP</text>
<text transform="translate(142.18 2418.7) rotate(-53.5) scale(0.94 1)" font-size="40">1 year avg</text>
<text transform="translate(216.15 2418.7) rotate(-53.5) scale(0.94 1)" font-size="40">2 year avg</text>
<text transform="translate(289.12 2418.7) rotate(-53.5) scale(0.94 1)" font-size="40">3 year avg</text>
<text transform="translate(360.09 2418.7) rotate(-53.5) scale(0.94 1)" font-size="40">4 year avg</text>
<text transform="translate(436.06 2418.7) rotate(-53.5) scale(0.94 1)" font-size="40">5 year avg</text>
<text transform="translate(507.53 2418.7) rotate(-53.5) scale(0.94 1)" font-size="40">6 year avg</text>
<text transform="translate(582.5 2418.7) rotate(-53.5) scale(0.94 1)" font-size="40">7 year avg</text>
<text transform="translate(653.97 2418.7) rotate(-53.5) scale(0.94 1)" font-size="40">8 year avg</text>
<text transform="translate(726.94 2418.7) rotate(-53.5) scale(0.94 1)" font-size="40">9 year avg</text>
<text transform="translate(985.6 2364.9) rotate(-53.5) scale(0.94 1)" font-size="40">DCPP</text>
<text transform="translate(1007.78 2418.7) rotate(-53.5) scale(0.94 1)" font-size="40">1 year avg</text>
<text transform="translate(1081.75 2418.7) rotate(-53.5) scale(0.94 1)" font-size="40">2 year avg</text>
<text transform="translate(1154.72 2418.7) rotate(-53.5) scale(0.94 1)" font-size="40">3 year avg</text>
<text transform="translate(1225.69 2418.7) rotate(-53.5) scale(0.94 1)" font-size="40">4 year avg</text>
<text transform="translate(1301.66 2418.7) rotate(-53.5) scale(0.94 1)" font-size="40">5 year avg</text>
<text transform="translate(1373.13 2418.7) rotate(-53.5) scale(0.94 1)" font-size="40">6 year avg</text>
<text transform="translate(1448.1 2418.7) rotate(-53.5) scale(0.94 1)" font-size="40">7 year avg</text>
<text transform="translate(1519.57 2418.7) rotate(-53.5) scale(0.94 1)" font-size="40">8 year avg</text>
<text transform="translate(1592.54 2418.7) rotate(-53.5) scale(0.94 1)" font-size="40">9 year avg</text>
</svg></body></html>
